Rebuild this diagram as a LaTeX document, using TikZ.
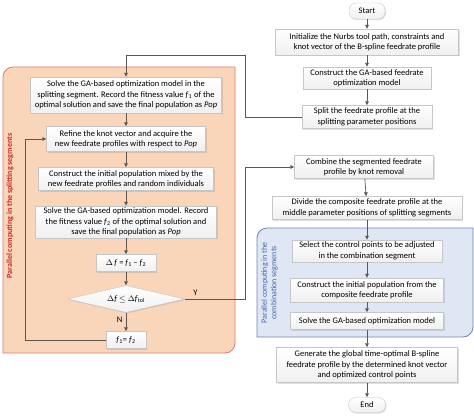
\documentclass[tikz,border=0pt]{standalone}
\usepackage{fontspec}
\setmainfont{Carlito}
\usetikzlibrary{shapes.geometric,arrows.meta,shadows}
\definecolor{flowline}{RGB}{95,85,75}
\definecolor{splitfill}{RGB}{249,214,186}
\definecolor{splitedge}{RGB}{226,118,112}
\definecolor{splittext}{RGB}{200,45,45}
\definecolor{combfill}{RGB}{222,231,243}
\definecolor{combedge}{RGB}{112,132,178}
\definecolor{combtext}{RGB}{70,100,170}
\tikzset{
    stepbox/.style = {draw = gray!45, top color = white, bottom color = gray!12, align = center,
        inner sep = 1pt, font = \fontsize{8.5}{10.5}\selectfont,
        drop shadow = {opacity = 0.25, shadow xshift = 1pt, shadow yshift = -1pt}},
    termbox/.style = {stepbox, rounded corners = 7pt},
    flow/.style = {draw = flowline, line width = 0.7pt, -{Triangle[length = 4pt, width = 3.5pt]}},
    lbl/.style = {font = \fontsize{8.5}{10}\selectfont},
}
\newcommand{\fit}[1]{\textit{f}\textsubscript{#1}}
\begin{document}
\begin{tikzpicture}[x = 1pt, y = -1pt]
        \useasboundingbox (0, 0) rectangle (474, 416);
        % parallel regions
        \filldraw[fill = splitfill, draw = splitedge, line width = 0.8pt]
            (3, 353) [rounded corners = 10pt] -- (3, 67) [sharp corners] -- (235, 67)
            [rounded corners = 10pt] -- (235, 353) [sharp corners] -- cycle;
        \filldraw[fill = combfill, draw = combedge, line width = 0.8pt]
            (257, 337) [rounded corners = 10pt] -- (257, 228) [sharp corners] -- (473, 228)
            [rounded corners = 10pt] -- (473, 337) [sharp corners] -- cycle;
        \node[rotate = 90, text = splittext, font = \fontsize{8}{9.5}\selectfont\bfseries] (splitlbl) at (10, 206)
            {Parallel computing in the splitting segments};
        \node[rotate = 90, text = combtext, align = center, font = \fontsize{8}{9.5}\selectfont] (comblbl) at (269.5, 283)
            {Parallel computing in the\\combination segments};
        % right column
        \node[termbox, minimum width = 36pt, minimum height = 16pt] (start) at (367, 11) {Start};
        \node[stepbox, minimum width = 183pt, minimum height = 26pt] (init) at (367, 42)
            {Initialize the Nurbs tool path, constraints and\\knot vector of the B-spline feedrate profile};
        \node[stepbox, minimum width = 128pt, minimum height = 22pt] (gamodel) at (367, 78)
            {Construct the GA-based feedrate\\optimization model};
        \node[stepbox, minimum width = 130pt, minimum height = 23pt] (split) at (367, 117)
            {Split the feedrate profile at the\\splitting parameter positions};
        \node[stepbox, minimum width = 139pt, minimum height = 23pt] (combine) at (364, 167)
            {Combine the segmented feedrate\\profile by knot removal};
        \node[stepbox, minimum width = 190pt, minimum height = 23pt] (divide) at (367, 208)
            {Divide the composite feedrate profile at the\\middle parameter positions of splitting segments};
        \node[stepbox, minimum width = 150pt, minimum height = 22pt] (select) at (367, 251)
            {Select the control points to be adjusted\\in the combination segment};
        \node[stepbox, minimum width = 153pt, minimum height = 24pt] (conpop) at (367, 290)
            {Construct the initial population from the\\composite feedrate profile};
        \node[stepbox, minimum width = 153pt, minimum height = 17pt] (solvecomb) at (367, 321)
            {Solve the GA-based optimization model};
        \node[stepbox, minimum width = 181pt, minimum height = 35pt] (generate) at (367, 365)
            {Generate the global time-optimal B-spline\\feedrate profile by the determined knot vector\\and optimized control points};
        \node[termbox, minimum width = 37pt, minimum height = 15pt] (end) at (367, 405) {End};
        % left column
        \node[stepbox, minimum width = 191pt, minimum height = 36pt] (solveone) at (126, 95)
            {Solve the GA-based optimization model in the\\splitting segment. Record the fitness value \fit{1} of the\\optimal solution and save the final population as \textit{Pop}};
        \node[stepbox, minimum width = 159pt, minimum height = 25pt] (refine) at (126, 139)
            {Refine the knot vector and acquire the\\new feedrate profiles with respect to \textit{Pop}};
        \node[stepbox, minimum width = 175pt, minimum height = 23pt] (initpop) at (126, 179)
            {Construct the initial population mixed by the\\new feedrate profiles and random individuals};
        \node[stepbox, minimum width = 181pt, minimum height = 32pt] (solvetwo) at (126, 222)
            {Solve the GA-based optimization model. Record\\the fitness value \fit{2} of the optimal solution and\\save the final population as \textit{Pop}};
        \node[stepbox, minimum width = 60pt, minimum height = 17pt] (delta) at (126, 263)
            {$\Delta$\,\textit{f} = \fit{1}\,-- \fit{2}};
        \node[stepbox, diamond, aspect = 4.3, minimum width = 117pt, minimum height = 27pt, inner sep = 0pt] (check) at (126, 299)
            {$\Delta$\textit{f} $\le$ $\Delta$\fit{tol}};
        \node[stepbox, minimum width = 40pt, minimum height = 17pt] (reset) at (126, 340)
            {\fit{1}= \fit{2}};
        % corner points
        \coordinate (upturn) at (245, 55);
        \coordinate (yturn) at (245, 299);
        \coordinate (loopturn) at (25, 340);
        % connectors
        \draw[flow] (start) -- (init);
        \draw[flow] (init) -- (gamodel);
        \draw[flow] (gamodel) -- (split);
        \draw[flow] (split.west) -| (upturn) -| (solveone.north);
        \draw[flow] (solveone) -- (refine);
        \draw[flow] (refine) -- (initpop);
        \draw[flow] (initpop) -- (solvetwo);
        \draw[flow] (solvetwo) -- (delta);
        \draw[flow] (delta) -- (check);
        \draw[flow] (check) -- node[lbl, left, pos = 0.4] {N} (reset);
        \draw[flow] (reset.west) -- (loopturn) |- (refine.west);
        \draw[flow] (check.east) -- node[lbl, above, pos = 0.18] {Y} (yturn) |- (combine.west);
        \draw[flow] (combine) -- (divide);
        \draw[flow] (divide) -- (select);
        \draw[flow] (select) -- (conpop);
        \draw[flow] (conpop) -- (solvecomb);
        \draw[flow] (solvecomb) -- (generate);
        \draw[flow] (generate) -- (end);
    \end{tikzpicture}
\end{document}
